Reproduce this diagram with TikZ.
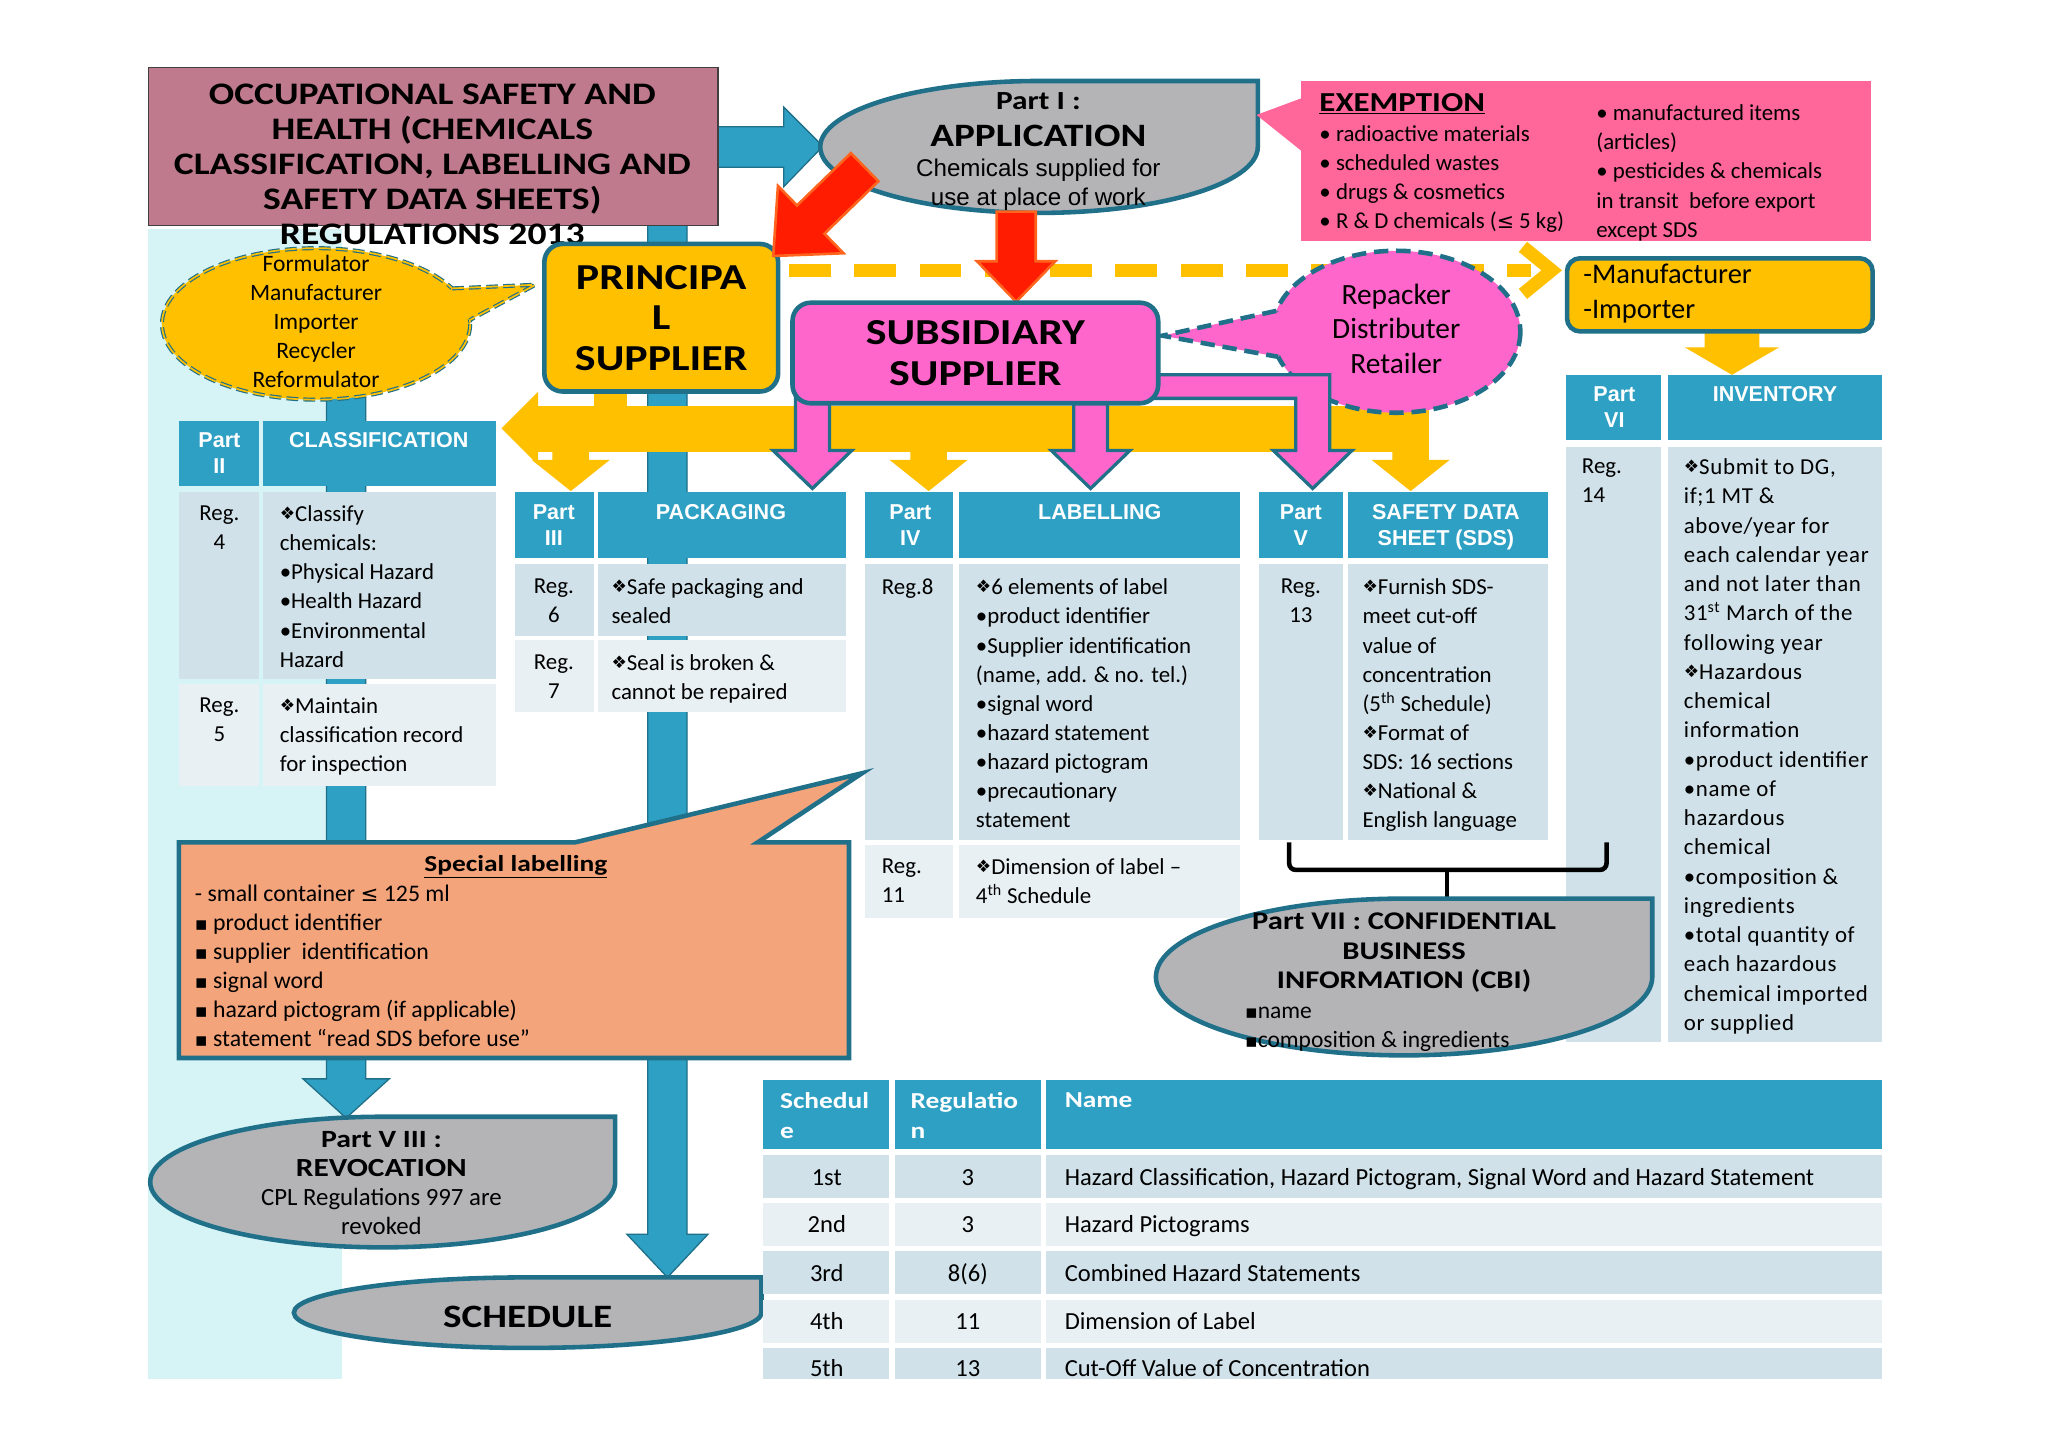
\documentclass[tikz,border=0pt]{standalone}
\usepackage{fontspec}
\usepackage{graphicx}
\setmainfont{Carlito}
\newfontfamily\bsf{Carlito}[FakeStretch=1.2]
\newfontfamily\arialf{Liberation Sans}
\newfontfamily\dejavu{DejaVu Sans}
\newfontfamily\invf[LetterSpace=3]{Carlito}
\definecolor{teal1}{RGB}{46,160,196}
\definecolor{tealdk}{RGB}{33,112,138}
\definecolor{gold}{RGB}{255,192,0}
\definecolor{mag}{RGB}{255,102,204}
\definecolor{expink}{RGB}{255,102,153}
\definecolor{gry}{RGB}{180,180,183}
\definecolor{salm}{RGB}{244,164,122}
\definecolor{mauve}{RGB}{192,122,141}
\definecolor{rowA}{RGB}{208,225,233}
\definecolor{rowB}{RGB}{233,240,244}
\definecolor{cyanbg}{RGB}{214,243,246}
\definecolor{redA}{RGB}{255,28,0}
\definecolor{redB}{RGB}{255,100,30}
\newcommand\fs[2]{\fontsize{#1}{#2}\selectfont}
\newcommand\dia{\raisebox{0.08em}{\scalebox{0.75}{\dejavu ❖}}}
\newcommand\sqb{{\dejavu\scalebox{0.8}{▪}}}
\newcommand\myle{{\dejavu\scalebox{0.9}{≤}}}
\newcommand\cellr[5]{\fill[#5] (#1,#2) rectangle (#3,#4);}
\newcommand\darr[7]{\path[#1] ({#2-#4},#3) -- ({#2+#4},#3) -- ({#2+#4},#5) -- ({#2+#6},#5) -- (#2,#7) -- ({#2-#6},#5) -- ({#2-#4},#5) -- cycle;}
\newcommand\tdrop[5]{\path[#1] ({#2-#4},#3) .. controls ({#2-#4},{#3-0.5523*#5}) and ({#2-0.5523*#4},{#3-#5}) .. (#2,{#3-#5}) -- ({#2+#4},{#3-#5}) -- ({#2+#4},#3) .. controls ({#2+#4},{#3+0.5523*#5}) and ({#2+0.5523*#4},{#3+#5}) .. (#2,{#3+#5}) .. controls ({#2-0.5523*#4},{#3+#5}) and ({#2-#4},{#3+0.5523*#5}) .. ({#2-#4},#3) -- cycle;}
\tikzset{
 tb/.style={inner sep=0, align=left, anchor=north west, font=\fs{17.5}{22.3}},
 tc/.style={inner sep=0, align=center, anchor=north, font=\fs{17.5}{22.3}},
 ht/.style={inner sep=0, align=center, anchor=north, font=\arialf\bfseries\fs{16.5}{20}, text=white},
 tealfill/.style={fill=teal1, draw=tealdk, line width=1},
 pinkarr/.style={fill=mag, draw=tealdk, line width=2.5, line join=miter},
 goldf/.style={fill=gold},
 redarr/.style={fill=redA, draw=redB, line width=2, line join=miter},
 tear/.style={fill=gry, draw=tealdk, line width=3.5},
}
\begin{document}
\begin{tikzpicture}[x=1pt,y=-1pt]
\useasboundingbox (0,0) rectangle (1568,1108);
\fill[white] (0,0) rectangle (1568,1108);
\fill[cyanbg] (113,175) rectangle (262,1056);

% teal spines
\path[tealfill] (496,172) -- (526,172) -- (526,945) -- (542,945) -- (511,978) -- (480,945) -- (496,945) -- cycle;
\path[tealfill] (250,300) -- (280,300) -- (280,826) -- (298,826) -- (265,856) -- (232,826) -- (250,826) -- cycle;
% blue arrow title -> application
\path[tealfill] (549,97) -- (600,97) -- (600,82) -- (630,112) -- (600,143) -- (600,128) -- (549,128) -- cycle;

% title box
\node[fill=mauve, draw=black!75, line width=1.2, minimum width=436pt, minimum height=121pt, anchor=north west, inner sep=0] (titlebox) at (113,51) {};

% gold band and arrows
\path[goldf] (384,328) -- (412,300) -- (412,311) -- (1094,311) -- (1094,346) -- (412,346) -- (412,356) -- cycle;
\fill[gold] (455,296) rectangle (480,312);
\darr{goldf}{437}{340}{14}{352}{30}{376}
\darr{goldf}{711}{340}{14}{352}{30}{376}
\darr{goldf}{1080}{330}{14}{352}{30}{376}
\darr{goldf}{1326}{245}{21}{266}{36}{287}

% Formulator bubble
\draw[fill=gold, draw=tealdk, line width=0.9, double=gold, double distance=1.3pt, dash pattern=on 9pt off 4pt] (242,248) ellipse [x radius=118, y radius=58];
\fill[gold] (410,218) -- (346.2,220.8) -- (330,235) -- (359.8,245) -- cycle;
\draw[tealdk, line width=0.9, double=gold, double distance=1.3pt, dash pattern=on 9pt off 4pt] (346.2,220.8) -- (410,218) -- (359.8,245);
\node[tc, font=\fs{18}{22.3}] (formtxt) at (242,195) {Formulator\\Manufacturer\\Importer\\Recycler\\Reformulator};

% title text
\node[inner sep=0, align=center, anchor=north, font=\bsf\bfseries\fs{24}{26.8}] (title) at (331,64) {OCCUPATIONAL SAFETY AND\\HEALTH (CHEMICALS\\CLASSIFICATION, LABELLING AND\\SAFETY DATA SHEETS)\\REGULATIONS 2013};

% principal supplier
\node[fill=gold, draw=tealdk, line width=3.5, rounded corners=14, minimum width=179pt, minimum height=113pt, inner sep=0, anchor=north west, align=center, font=\bsf\bfseries\fs{28}{31}] (principal) at (415,185) {PRINCIPA\\L\\SUPPLIER};

% dashed gold arrow
\coordinate (dg1) at (604,207);
\coordinate (dg2) at (1172,207);
\draw[gold, line width=10, dash pattern=on 32pt off 18pt] (dg1) -- (dg2);
\draw[gold, line width=10, line join=miter] (1166,189) -- (1188,207) -- (1166,225);

% application
\tdrop{tear}{795.5}{112.5}{167.5}{50.5}
\node[anchor=base, inner sep=0, font=\bsf\bfseries\fs{20}{22}] (app1) at (795,84) {Part I :};
\node[anchor=base, inner sep=0, font=\bsf\bfseries\fs{25}{28}] (app2) at (795,112) {APPLICATION};
\node[anchor=base, inner sep=0, font=\arialf\fs{18.5}{20}] (app3) at (795,135) {Chemicals supplied for};
\node[anchor=base, inner sep=0, font=\arialf\fs{18.5}{20}] (app4) at (795,157) {use at place of work};
% red arrows
\path[redarr] (672.5,138.8) -- (631.2,178.9) -- (645.8,193.9) -- (592,196) -- (595.6,142.3) -- (610.2,157.3) -- (651.5,117.2) -- cycle;
\darr{redarr}{778}{162}{15}{200}{30}{231}

% exemption
\node[fill=expink, minimum width=436pt, minimum height=122pt, anchor=north west, inner sep=0] (exbox) at (996,62) {};
\fill[expink] (997,75) -- (962,88) -- (997,116) -- cycle;
\node[anchor=base west, inner sep=0, font=\bsf\bfseries\fs{21}{24}] (exh) at (1010,85) {\underline{EXEMPTION}};
\node[tb] (exl) at (1010,96) {• radioactive materials\\• scheduled wastes\\• drugs \& cosmetics\\• R \& D chemicals (\myle{} 5 kg)};
\node[tb] (exr) at (1222,80) {• manufactured items\\(articles)\\• pesticides \& chemicals\\in transit\ \ before export\\except SDS};

% repacker bubble
\draw[fill=mag, draw=tealdk, line width=3.5, dash pattern=on 11pt off 6pt] (1069,254) ellipse [x radius=95, y radius=62];
\fill[mag] (890,257) -- (977.2,238) -- (995,255) -- (978.6,273.2) -- cycle;
\draw[tealdk, line width=3.5, dash pattern=on 11pt off 6pt] (977.2,238) -- (890,257) -- (978.6,273.2);
\node[tc, font=\fs{22.5}{26.5}] (reptxt) at (1069,217) {Repacker\\Distributer\\Retailer};

% pink arrows
\darr{pinkarr}{622}{300}{13}{345}{30}{374}
\darr{pinkarr}{835}{300}{13}{345}{30}{374}
\path[pinkarr] (875,305) -- (875,287) -- (1018,287) -- (1018,345) -- (1035,345) -- (1005,374) -- (975,345) -- (992,345) -- (992,305) -- cycle;
% subsidiary
\node[fill=mag, draw=tealdk, line width=3.5, rounded corners=14, minimum width=280pt, minimum height=77pt, inner sep=0, anchor=north west, align=center, font=\bsf\bfseries\fs{28}{31}] (subsid) at (605,230) {SUBSIDIARY\\SUPPLIER};

% manufacturer box
\node[fill=gold, draw=tealdk, line width=3.5, rounded corners=10, minimum width=234pt, minimum height=56pt, anchor=north west, inner sep=0] (mfr) at (1198,196) {};
\node[tb, font=\fs{21.8}{27}] (mfrtxt) at (1212,202) {-Manufacturer\\-Importer};

% ---- Part II table
\cellr{137}{322}{198}{372}{teal1}\cellr{201}{322}{380}{372}{teal1}
\cellr{137}{377}{198}{520}{rowA}\cellr{201}{377}{380}{520}{rowA}
\cellr{137}{524}{198}{602}{rowB}\cellr{201}{524}{380}{602}{rowB}
\node[ht] (p2h1) at (168,331) {Part\\II};
\node[ht] (p2h2) at (290,331) {CLASSIFICATION};
\node[tc] (p2r1) at (168,387) {Reg.\\4};
\node[tb] (p2t1) at (214,387) {\dia Classify\\chemicals:\\•Physical Hazard\\•Health Hazard\\•Environmental\\Hazard};
\node[tc] (p2r2) at (168,534) {Reg.\\5};
\node[tb] (p2t2) at (214,534) {\dia Maintain\\classification record\\for inspection};

% ---- Part III table
\cellr{394}{377}{455}{427}{teal1}\cellr{458}{377}{648}{427}{teal1}
\cellr{394}{432}{455}{487}{rowA}\cellr{458}{432}{648}{487}{rowA}
\cellr{394}{490}{455}{545}{rowB}\cellr{458}{490}{648}{545}{rowB}
\node[ht] (p3h1) at (424,386) {Part\\III};
\node[ht] (p3h2) at (552,386) {PACKAGING};
\node[tc] (p3r1) at (424,443) {Reg.\\6};
\node[tb] (p3t1) at (468,443) {\dia Safe packaging and\\sealed};
\node[tc] (p3r2) at (424,501) {Reg.\\7};
\node[tb] (p3t2) at (468,501) {\dia Seal is broken \&\\cannot be repaired};

% ---- Part IV table
\cellr{662}{377}{730}{427}{teal1}\cellr{734}{377}{949}{427}{teal1}
\cellr{662}{432}{730}{643}{rowA}\cellr{734}{432}{949}{643}{rowA}
\cellr{662}{647}{730}{703}{rowB}\cellr{734}{647}{949}{703}{rowB}
\node[ht] (p4h1) at (697,386) {Part\\IV};
\node[ht] (p4h2) at (842,386) {LABELLING};
\node[tb] (p4r1) at (675,443) {Reg.8};
\node[tb] (p4t1) at (747,443) {\dia 6 elements of label\\•product identifier\\•Supplier identification\\(name, add. \& no. tel.)\\•signal word\\•hazard statement\\•hazard pictogram\\•precautionary\\statement};
\node[tb] (p4r2) at (675,657) {Reg.\\11};
\node[tb] (p4t2) at (747,657) {\dia Dimension of label --\\4\textsuperscript{th} Schedule};

% ---- Part V table
\cellr{964}{377}{1028}{427}{teal1}\cellr{1032}{377}{1185}{427}{teal1}
\cellr{964}{432}{1028}{643}{rowA}\cellr{1032}{432}{1185}{643}{rowA}
\node[ht] (p5h1) at (996,386) {Part\\V};
\node[ht] (p5h2) at (1107,386) {SAFETY DATA\\SHEET (SDS)};
\node[tc] (p5r1) at (996,443) {Reg.\\13};
\node[tb] (p5t1) at (1043,443) {\dia Furnish SDS-\\meet cut-off\\value of\\concentration\\(5\textsuperscript{th} Schedule)\\\dia Format of\\SDS: 16 sections\\\dia National \&\\English language};

% ---- Part VI table
\cellr{1199}{287}{1272}{337}{teal1}\cellr{1277}{287}{1441}{337}{teal1}
\cellr{1199}{342}{1272}{798}{rowA}\cellr{1277}{342}{1441}{798}{rowA}
\node[ht] (p6h1) at (1236,296) {Part\\VI};
\node[ht] (p6h2) at (1359,296) {INVENTORY};
\node[tb] (p6r1) at (1211,351) {Reg.\\14};
\node[tb, font=\invf\fs{17.5}{22.4}] (p6t1) at (1289,351) {\dia Submit to DG,\\if;1 MT \&\\above/year for\\each calendar year\\and not later than\\31\textsuperscript{st} March of the\\following year\\\dia Hazardous\\chemical\\information\\•product identifier\\•name of\\hazardous\\chemical\\•composition \&\\ingredients\\•total quantity of\\each hazardous\\chemical imported\\or supplied};

% ---- special labelling callout
\path[fill=salm, draw=tealdk, line width=3.5, line join=miter] (137,645) -- (440,645) -- (660,592) -- (580,645) -- (650,645) -- (650,810) -- (137,810) -- cycle;
\node[anchor=base, inner sep=0, font=\bsf\bfseries\fs{17.5}{22}] (sphd) at (395,667) {\underline{Special labelling}};
\node[tb, font=\fs{18.2}{22.3}] (splist) at (149,677) {- small container \myle{} 125 ml\\\sqb\ product identifier\\\sqb\ supplier\ \ identification\\\sqb\ signal word\\\sqb\ hazard pictogram (if applicable)\\\sqb\ statement “read SDS before use”};

% ---- bracket and CBI
\draw[line width=3.5, rounded corners=5] (987,645) -- (987,666) -- (1230,666) -- (1230,645);
\draw[line width=3.5] (1108,666) -- (1108,690);
\tdrop{tear}{1075}{748}{190}{60}
\node[tc, font=\bsf\bfseries\fs{19.5}{22.5}] (cbi1) at (1075,699) {Part VII : CONFIDENTIAL\\BUSINESS\\INFORMATION (CBI)};
\node[tb, font=\fs{18}{22.3}] (cbi2) at (953,771) {\sqb name\\\sqb composition \& ingredients};

% ---- revocation
\tdrop{tear}{293}{905}{178}{50}
\node[tc, font=\fs{19}{22.3}] (rev) at (292,866) {{\bsf\bfseries Part V III :}\\{\bsf\bfseries\fs{20}{22.3}REVOCATION}\\CPL Regulations 997 are\\revoked};

% ---- schedule
\tdrop{tear}{404}{1005}{179}{27}
\node[anchor=base, inner sep=0, font=\bsf\bfseries\fs{25}{28}] (schedtxt) at (404,1016) {SCHEDULE};

% ---- schedule table
\cellr{584}{827}{681}{880}{teal1}\cellr{685}{827}{797}{880}{teal1}\cellr{801}{827}{1441}{880}{teal1}
\cellr{584}{884}{681}{917}{rowA}\cellr{685}{884}{797}{917}{rowA}\cellr{801}{884}{1441}{917}{rowA}
\cellr{584}{921}{681}{954}{rowB}\cellr{685}{921}{797}{954}{rowB}\cellr{801}{921}{1441}{954}{rowB}
\cellr{584}{958}{681}{991}{rowA}\cellr{685}{958}{797}{991}{rowA}\cellr{801}{958}{1441}{991}{rowA}
\cellr{584}{995}{681}{1028}{rowB}\cellr{685}{995}{797}{1028}{rowB}\cellr{801}{995}{1441}{1028}{rowB}
\cellr{584}{1032}{681}{1056}{rowA}\cellr{685}{1032}{797}{1056}{rowA}\cellr{801}{1032}{1441}{1056}{rowA}
\node[tb, font=\bsf\bfseries\fs{17.5}{23}, text=white] (sh1) at (597,836) {Schedul\\e};
\node[tb, font=\bsf\bfseries\fs{17.5}{23}, text=white] (sh2) at (697,836) {Regulatio\\n};
\node[tb, font=\bsf\bfseries\fs{17.5}{23}, text=white] (sh3) at (815,836) {Name};
\tikzset{sc/.style={anchor=base, inner sep=0, font=\fs{18.8}{22}}, sn/.style={anchor=base west, inner sep=0, font=\fs{18.8}{22}}}
\node[sc] (a1) at (633,908) {1st};  \node[sc] (b1) at (741,908) {3};    \node[sn] (c1) at (815,908) {Hazard Classification, Hazard Pictogram, Signal Word and Hazard Statement};
\node[sc] (a2) at (633,944) {2nd};  \node[sc] (b2) at (741,944) {3};    \node[sn] (c2) at (815,944) {Hazard Pictograms};
\node[sc] (a3) at (633,981) {3rd};  \node[sc] (b3) at (741,981) {8(6)}; \node[sn] (c3) at (815,981) {Combined Hazard Statements};
\node[sc] (a4) at (633,1018) {4th}; \node[sc] (b4) at (741,1018) {11};  \node[sn] (c4) at (815,1018) {Dimension of Label};
\node[sc] (a5) at (633,1054) {5th}; \node[sc] (b5) at (741,1054) {13};  \node[sn] (c5) at (815,1054) {Cut-Off Value of Concentration};
\end{tikzpicture}
\end{document}
